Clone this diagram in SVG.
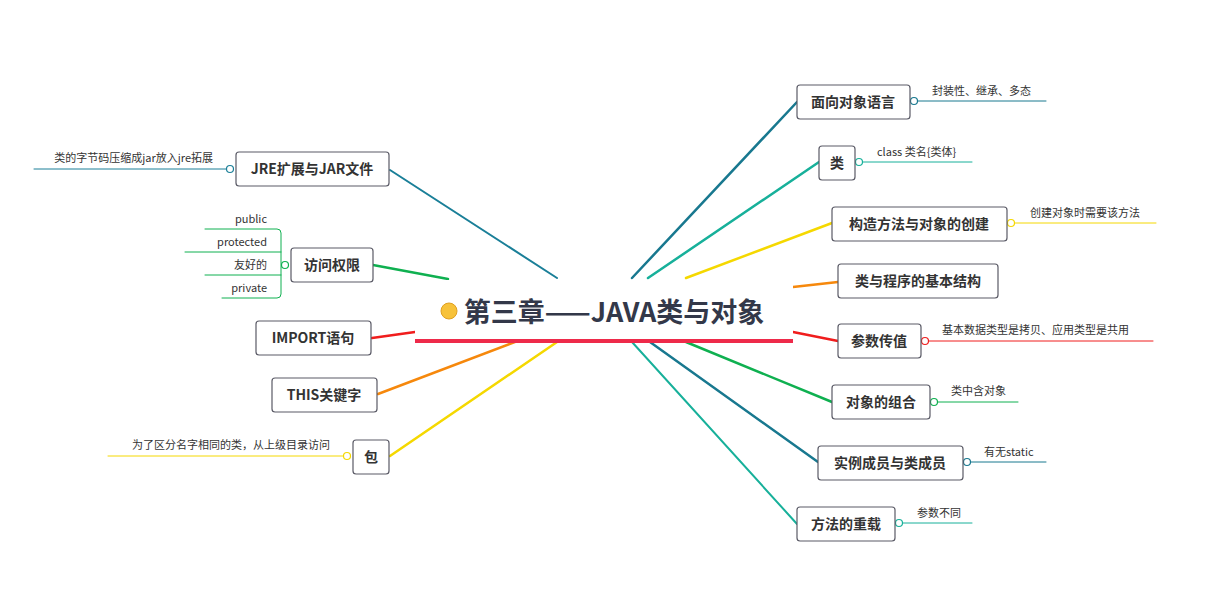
<svg xmlns="http://www.w3.org/2000/svg" width="1210" height="595" viewBox="0 0 1210 595">
<style>
.n rect{fill:#fff;stroke:#5a5a66;stroke-width:1.2}
.n text{font-family:"Noto Sans CJK SC","Liberation Sans",sans-serif;font-size:14px;font-weight:bold;fill:#333;text-anchor:middle}
.s{font-family:"Noto Sans CJK SC","Liberation Sans",sans-serif;font-size:11px;fill:#333}
.e{text-anchor:end}
.c{fill:#fff;stroke-width:1.2}
</style>
<rect width="1210" height="595" fill="#fff"/>
<g id="connectors" fill="none" stroke-linecap="round">
<line x1="390" y1="170" x2="557" y2="278" stroke="#1a7f98" stroke-width="2"/>
<line x1="373" y1="265" x2="448" y2="279" stroke="#0fb050" stroke-width="2.5"/>
<line x1="372" y1="338" x2="415" y2="332" stroke="#f01d1d" stroke-width="2.5"/>
<line x1="378" y1="394" x2="520" y2="340" stroke="#f6880c" stroke-width="2.5"/>
<line x1="390" y1="456" x2="557" y2="342" stroke="#f5d800" stroke-width="2.5"/>
<line x1="797" y1="102" x2="632" y2="278" stroke="#18788f" stroke-width="2.5"/>
<line x1="819" y1="162" x2="648" y2="278" stroke="#17b09a" stroke-width="2.5"/>
<line x1="832" y1="223" x2="686" y2="278" stroke="#f5d800" stroke-width="2.5"/>
<line x1="838" y1="282" x2="793" y2="287" stroke="#f6880c" stroke-width="2.5"/>
<line x1="838" y1="341" x2="793" y2="332" stroke="#f01d1d" stroke-width="2.5"/>
<line x1="832" y1="402" x2="686" y2="342" stroke="#0fb050" stroke-width="2.5"/>
<line x1="818" y1="462" x2="650" y2="342" stroke="#18788f" stroke-width="2.5"/>
<line x1="797" y1="524" x2="632" y2="342" stroke="#17b09a" stroke-width="2"/>
<line x1="918" y1="101" x2="1046" y2="101" stroke="#18788f"/>
<line x1="863" y1="162" x2="972" y2="162" stroke="#17b09a"/>
<line x1="1015" y1="223" x2="1156" y2="223" stroke="#f5d800"/>
<line x1="929" y1="341" x2="1153" y2="341" stroke="#f01d1d"/>
<line x1="938" y1="402" x2="1018" y2="402" stroke="#0fb050"/>
<line x1="971" y1="462" x2="1046" y2="462" stroke="#18788f"/>
<line x1="903" y1="523" x2="972" y2="523" stroke="#17b09a"/>
<line x1="34" y1="169" x2="226" y2="169" stroke="#1a7f98"/>
<line x1="108" y1="456" x2="343" y2="456" stroke="#f5d800"/>
<path d="M205 229H277Q281 229 281 233V294Q281 298 277 298H222M185 252H281M205 275H281" stroke="#0fb050"/>
<circle class="c" cx="914" cy="101" r="3.5" stroke="#18788f"/>
<circle class="c" cx="859" cy="162" r="3.5" stroke="#17b09a"/>
<circle class="c" cx="1011" cy="223" r="3.5" stroke="#f5d800"/>
<circle class="c" cx="925" cy="341" r="3.5" stroke="#f01d1d"/>
<circle class="c" cx="934" cy="402" r="3.5" stroke="#0fb050"/>
<circle class="c" cx="967" cy="462" r="3.5" stroke="#18788f"/>
<circle class="c" cx="899" cy="523" r="3.5" stroke="#17b09a"/>
<circle class="c" cx="230" cy="169" r="3.5" stroke="#1a7f98"/>
<circle class="c" cx="285" cy="265" r="3.5" stroke="#0fb050"/>
<circle class="c" cx="347" cy="456" r="3.5" stroke="#f5d800"/>
</g>
<g id="center">
<rect x="415" y="280" width="378" height="60" fill="#fff"/>
<rect x="415" y="339" width="378" height="4" fill="#ee2a4a"/>
<circle cx="449" cy="311" r="8" fill="#f7c23a" stroke="#e0a020"/>
<text x="614" y="322" font-family="Noto Sans CJK SC,Liberation Sans,sans-serif" font-size="27" font-weight="bold" fill="#333849" text-anchor="middle">第三章——JAVA类与对象</text>
</g>
<g id="n1" class="n"><rect x="797" y="85" width="113" height="34" rx="3"/><text x="853" y="107">面向对象语言</text></g>
<g id="n2" class="n"><rect x="819" y="146" width="36" height="34" rx="3"/><text x="837" y="168">类</text></g>
<g id="n3" class="n"><rect x="832" y="207" width="175" height="34" rx="3"/><text x="919" y="229">构造方法与对象的创建</text></g>
<g id="n4" class="n"><rect x="838" y="264" width="160" height="34" rx="3"/><text x="918" y="286">类与程序的基本结构</text></g>
<g id="n5" class="n"><rect x="838" y="324" width="83" height="34" rx="3"/><text x="879" y="346">参数传值</text></g>
<g id="n6" class="n"><rect x="832" y="385" width="98" height="34" rx="3"/><text x="881" y="407">对象的组合</text></g>
<g id="n7" class="n"><rect x="818" y="446" width="145" height="34" rx="3"/><text x="890" y="468">实例成员与类成员</text></g>
<g id="n8" class="n"><rect x="797" y="507" width="98" height="34" rx="3"/><text x="846" y="529">方法的重载</text></g>
<g id="n9" class="n"><rect x="236" y="152" width="153" height="34" rx="3"/><text x="312" y="174">JRE扩展与JAR文件</text></g>
<g id="n10" class="n"><rect x="291" y="248" width="82" height="34" rx="3"/><text x="332" y="270">访问权限</text></g>
<g id="n11" class="n"><rect x="256" y="321" width="115" height="34" rx="3"/><text x="313" y="343">IMPORT语句</text></g>
<g id="n12" class="n"><rect x="272" y="378" width="105" height="34" rx="3"/><text x="324" y="400">THIS关键字</text></g>
<g id="n13" class="n"><rect x="353" y="440" width="36" height="34" rx="3"/><text x="371" y="462">包</text></g>
<g id="labels">
<text class="s" x="932" y="95">封装性、继承、多态</text>
<text class="s" x="877" y="156">class 类名{类体}</text>
<text class="s" x="1030" y="217">创建对象时需要该方法</text>
<text class="s" x="942" y="334">基本数据类型是拷贝、应用类型是共用</text>
<text class="s" x="951" y="395">类中含对象</text>
<text class="s" x="984" y="456">有无static</text>
<text class="s" x="917" y="517">参数不同</text>
<text class="s e" x="213" y="162">类的字节码压缩成jar放入jre拓展</text>
<text class="s e" x="267" y="223">public</text>
<text class="s e" x="267" y="246">protected</text>
<text class="s e" x="267" y="269">友好的</text>
<text class="s e" x="267" y="292">private</text>
<text class="s e" x="330" y="449">为了区分名字相同的类，从上级目录访问</text>
</g>
</svg>
